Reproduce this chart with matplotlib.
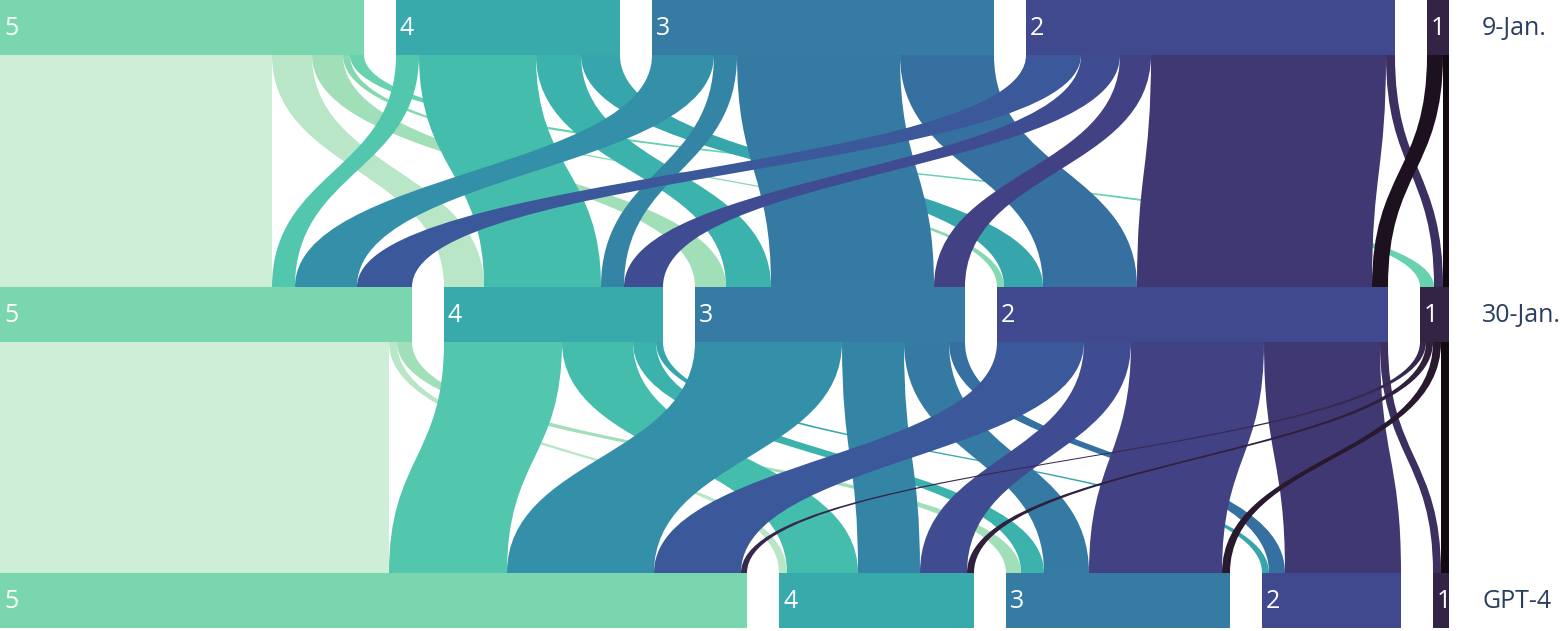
import numpy as np
import matplotlib.pyplot as plt
import seaborn as sns
from matplotlib.path import Path
from matplotlib.patches import PathPatch, Rectangle

categories = [5, 4, 3, 2, 1]
row_labels = ['9-Jan.', '30-Jan.', 'GPT-4']

# rows = score at the earlier stage, columns = score at the next one (5..1)
jan9_to_jan30 = [
    [272, 40, 31, 7, 14],
    [23, 117, 45, 39, 0],
    [62, 23, 163, 94, 0],
    [55, 39, 31, 235, 9],
    [0, 0, 0, 16, 6],
]
jan30_to_gpt4 = [
    [389, 8, 15, 0, 0],
    [118, 71, 23, 7, 0],
    [147, 62, 45, 16, 0],
    [87, 47, 133, 116, 8],
    [6, 7, 8, 0, 8],
]

mako = sns.color_palette('mako', as_cmap=True)
node_colors = sns.color_palette('mako', 5)[::-1]

W, H = 1563, 631
gap = 32
bar_h = 55
row_y = [0, 287, 573]
font = ['Open Sans', 'DejaVu Sans']

fig = plt.figure(figsize=(W / 100, H / 100), dpi=100)
ax = fig.add_axes([0, 0, 1, 1])
ax.set_xlim(0, W)
ax.set_ylim(H, 0)
ax.axis('off')

flows = [np.array(jan9_to_jan30), np.array(jan30_to_gpt4)]
totals = [flows[0].sum(axis=1), flows[0].sum(axis=0), flows[1].sum(axis=0)]
starts = [np.concatenate([[0], np.cumsum(t[:-1] + gap)]).astype(float) for t in totals]

n = len(categories)
codes = [Path.MOVETO, Path.CURVE4, Path.CURVE4, Path.CURVE4, Path.LINETO,
         Path.CURVE4, Path.CURVE4, Path.CURVE4, Path.CLOSEPOLY]

# links, coloured along mako from (5 -> 5) to (1 -> 1)
for r, f in enumerate(flows):
    y0 = row_y[r] + bar_h
    y1 = row_y[r + 1]
    ym = (y0 + y1) / 2
    out_pos = starts[r].copy()
    in_pos = starts[r + 1].copy()
    for i in range(n):
        for j in range(n):
            w = f[i, j]
            if w == 0:
                continue
            a, b = out_pos[i], in_pos[j]
            verts = [(a, y0), (a, ym), (b, ym), (b, y1), (b + w, y1),
                     (b + w, ym), (a + w, ym), (a + w, y0), (a, y0)]
            col = mako(0.965 - 0.93 * (i * n + j) / (n * n - 1))
            ax.add_patch(PathPatch(Path(verts, codes), fc=col, lw=0))
            out_pos[i] += w
            in_pos[j] += w

# nodes and labels
for r in range(3):
    for k, cat in enumerate(categories):
        ax.add_patch(Rectangle((starts[r][k], row_y[r]), totals[r][k], bar_h,
                               fc=node_colors[k], lw=0))
        ax.text(starts[r][k] + 4, row_y[r] + bar_h / 2 + 1, str(cat), color='white',
                fontsize=18, va='center', ha='left', family=font)
    ax.text(1482, row_y[r] + bar_h / 2 + 1, row_labels[r], color='#2a3f5f',
            fontsize=18, va='center', ha='left', family=font)

fig.savefig('out.png', dpi=100)
